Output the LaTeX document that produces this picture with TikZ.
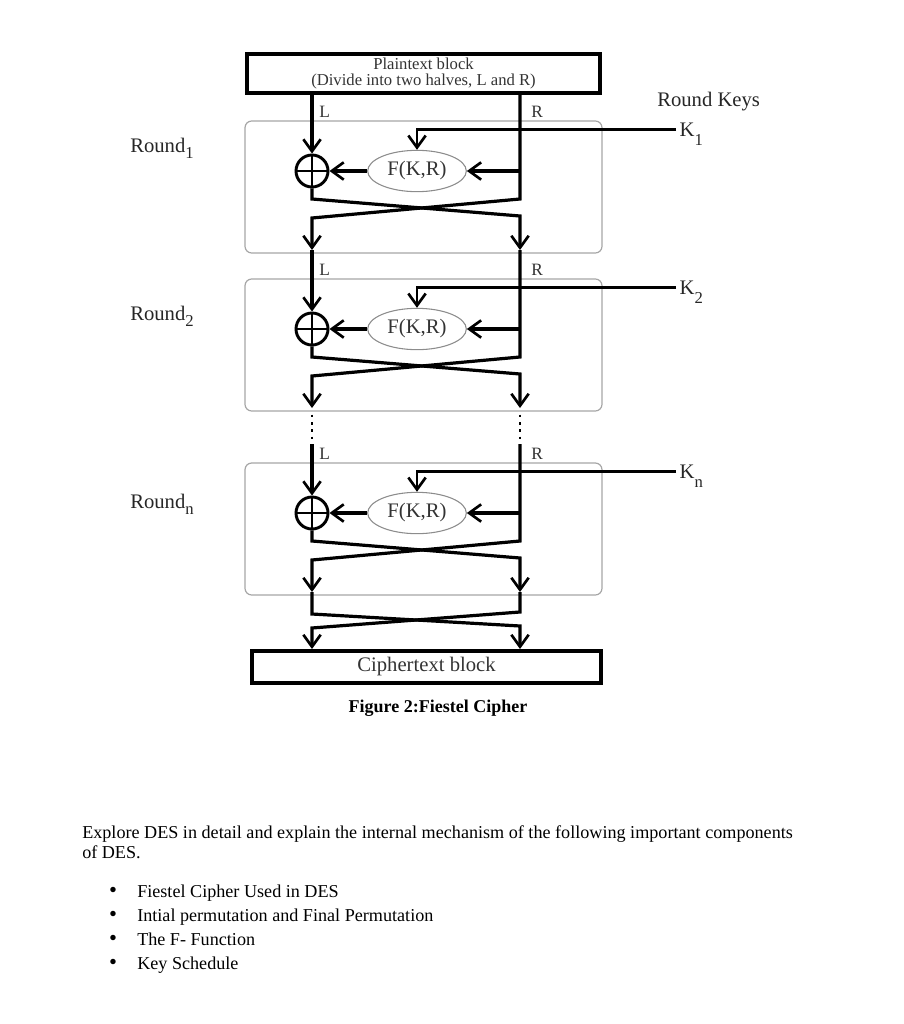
\documentclass[tikz,border=0pt]{standalone}
\usepackage{fontspec}
\setmainfont{Liberation Serif}
\usetikzlibrary{arrows.meta,positioning,shapes.geometric}
\newcommand{\lowsub}[2][4.5pt]{\raisebox{-#1}{\fontsize{12.5}{13}\selectfont #2}}

\begin{document}
\begin{tikzpicture}[x=0.75pt, y=-0.75pt,
    >={Straight Barb[length=9pt, width=13pt, line width=2pt]},
    wire/.style={line width=2.4pt},
    keywire/.style={line width=2.2pt},
    dotwire/.style={line width=2.2pt, dash pattern=on 2pt off 3.5pt},
    roundbox/.style={draw=black!35, line width=0.9pt, rounded corners=5pt},
    block/.style={draw, line width=3pt, inner sep=0pt, text=black!80},
    ffun/.style={ellipse, draw=black!45, line width=0.8pt, minimum width=74pt, minimum height=31pt, inner sep=0pt, text=black!80, font=\fontsize{15.5}{17}\selectfont},
    xorop/.style={circle, draw, line width=2.2pt, minimum size=24pt, inner sep=0pt},
    half/.style={anchor=west, inner sep=0pt, text=black!80, font=\fontsize{13}{14}\selectfont},
    side/.style={inner sep=0pt, text=black!85, font=\fontsize{15.5}{17}\selectfont},
    body/.style={anchor=base west, inner sep=0pt, font=\fontsize{13.6}{16}\selectfont}]
\useasboundingbox (0,0) rectangle (903,1024);

% plaintext and ciphertext blocks
\node[block, minimum width=265pt, minimum height=29pt, align=center, font=\fontsize{12.5}{11.3}\selectfont] (plain) at (423.5,73.5) {Plaintext block\\(Divide into two halves, L and R)};
\node[block, minimum width=262pt, minimum height=24pt, font=\fontsize{15.5}{17}\selectfont] (cipher) at (426.5,667) {Ciphertext block};
\node[font=\bfseries\fontsize{13.5}{15}\selectfont] (caption) at (438,708) {Figure 2:Fiestel Cipher};

\node[side, anchor=base west] (keys) at (657,107) {Round Keys};

% one Feistel round per entry
\foreach \yb/\ry/\s/\st in {121/152/1/95, 279/320/2/250, 463/508/n/444} {
  \draw[roundbox] (245,\yb) rectangle (602,\yb+132);
  \coordinate (lin\s) at (312,\st);
  \coordinate (rin\s) at (520,\st);
  \coordinate (lout\s) at (312,\yb+129);
  \coordinate (rout\s) at (520,\yb+129);
  \node[half] (l\s) at (319,\yb-9) {L};
  \node[half] (r\s) at (531,\yb-9) {R};
  \node[side, anchor=base west] (round\s) at (130,\ry) {Round\lowsub{\s}};
  \node[side, anchor=base west, inner sep=2.5pt] (k\s) at (676,\yb+15) {K\lowsub[7pt]{\s}};
  \node[xorop] (xor\s) at (312,\yb+50) {};
  \draw[line width=2.2pt] (xor\s.north) -- (xor\s.south) (xor\s.west) -- (xor\s.east);
  \node[ffun] (f\s) at (417,\yb+50) {F(K,R)};
  \draw[wire, ->] (lin\s) -- (xor\s);
  \draw[keywire, ->] ([yshift=5pt]k\s.base west) -| (f\s.north);
  \draw[wire, ->] (f\s.east -| rin\s) -- (f\s.east);
  \draw[wire, ->] (f\s) -- (xor\s);
  \draw[wire, ->] (xor\s) -- (312,\yb+78) -- (520,\yb+95) -- (rout\s);
  \draw[wire, ->] (rin\s) -- (520,\yb+78) -- (312,\yb+97) -- (lout\s);
}

% skipped rounds
\draw[dotwire] ([yshift=-5pt]lout2) -- ([yshift=3pt]linn);
\draw[dotwire] ([yshift=-5pt]rout2) -- ([yshift=3pt]rinn);

% final swap
\draw[wire, ->] (loutn) -- (312,614) -- (520,626) -- (cipher.north -| routn);
\draw[wire, ->] (routn) -- (520,612) -- (312,628) -- (cipher.north -| loutn);

% task text
\node[body] (task) at (82,838) {Explore DES in detail and explain the internal mechanism of the following important components};
\node[body] (task2) at (82,858) {of DES.};
\foreach \yi/\txt [count=\i] in {897/Fiestel Cipher Used in DES, 921/Intial permutation and Final Permutation, 945/The F- Function, 969/Key Schedule} {
  \node[body, anchor=base, font=\fontsize{17}{16}\selectfont] (dot\i) at (113,\yi) {\textbullet};
  \node[body] (item\i) at (137,\yi) {\txt};
}
\end{tikzpicture}
\end{document}
